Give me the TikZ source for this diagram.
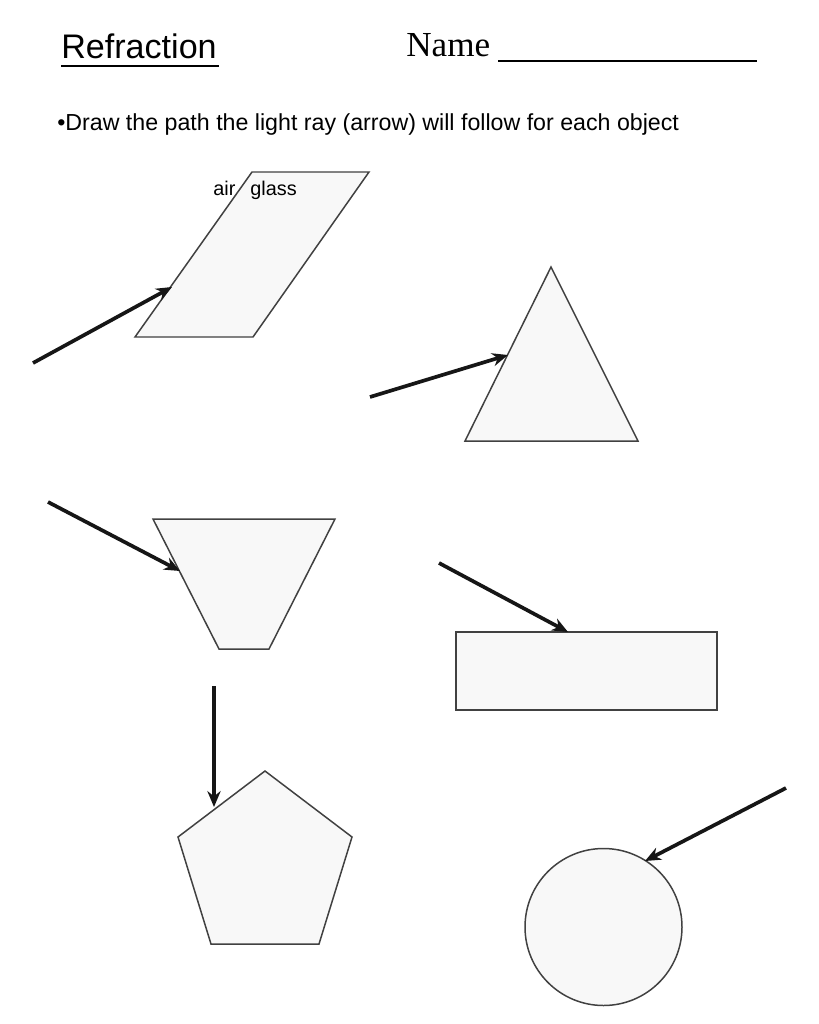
\documentclass[tikz,border=0pt]{standalone}
\usepackage{fontspec}
\setmainfont{Liberation Serif}
\setsansfont{Liberation Sans}
\usetikzlibrary{arrows.meta}
\definecolor{rayblack}{RGB}{22,22,22}
\definecolor{edgegray}{RGB}{65,65,65}
\definecolor{glassfill}{RGB}{248,248,248}

\begin{document}
\begin{tikzpicture}[x=0.02cm, y=-0.02cm, >={Stealth[length=9pt,width=7.5pt]},
  glassbody/.style={draw=edgegray, fill=glassfill, line width=0.85pt, line join=miter},
  ray/.style={->, rayblack, line width=2.1pt},
  medium/.style={font=\sffamily\fontsize{11.3}{13}\selectfont, inner sep=0pt, anchor=base west}]
  \useasboundingbox[fill=white] (0,0) rectangle (818,1024);
  % header
  \node[font=\sffamily\fontsize{19.4}{22}\selectfont, inner sep=0pt, anchor=base west] (title) at (61,59) {Refraction};
  \draw[line width=1.3pt] (61,66) -- (219,66);
  \node[font=\rmfamily\fontsize{20}{24}\selectfont, inner sep=0pt, anchor=base west] (name) at (406,57) {Name};
  \draw[line width=1.1pt] (498,61) -- (757,61);
  \node[font=\sffamily\fontsize{13.2}{15}\selectfont, inner sep=0pt, anchor=base west] (task) at (57,131)
    {\textbullet Draw the path the light ray (arrow) will follow for each object};
  % parallelogram
  \draw[glassbody] (252,172) -- (369,172) -- (253,337) -- (135,337) -- cycle;
  \node[medium] (air) at (213,195) {air};
  \node[medium] (glass) at (250,195) {glass};
  % triangle
  \draw[glassbody] (551,267) -- (638,441) -- (465,441) -- cycle;
  % trapezoid
  \draw[glassbody] (153,519) -- (335,519) -- (269,649) -- (219,649) -- cycle;
  % rectangle
  \draw[glassbody] (456,632) rectangle (717,710);
  % pentagon
  \draw[glassbody] (265,771) -- (352,837) -- (319,944) -- (211,944) -- (178,837) -- cycle;
  % circle
  \draw[glassbody] (603.5,927) circle (78.5);
  % light rays
  \coordinate (r1s) at (33,363);  \coordinate (r1e) at (172,287);
  \coordinate (r2s) at (370,397); \coordinate (r2e) at (508,355);
  \coordinate (r3s) at (48,502);  \coordinate (r3e) at (180,571);
  \coordinate (r4s) at (439,563); \coordinate (r4e) at (568,632);
  \coordinate (r5s) at (214,686); \coordinate (r5e) at (214,807);
  \coordinate (r6s) at (786,788); \coordinate (r6e) at (645,861);
  \foreach \i in {1,...,6}
    \draw[ray] (r\i s) -- (r\i e);
\end{tikzpicture}
\end{document}
